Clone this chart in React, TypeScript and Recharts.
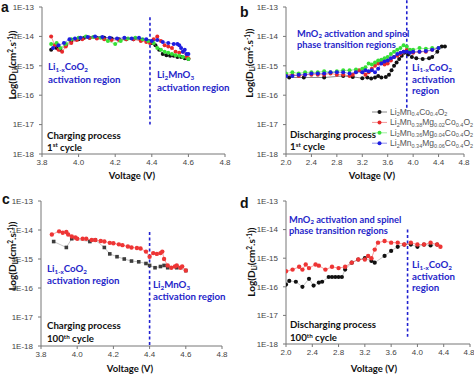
import { ScatterChart, Scatter, XAxis, YAxis, ReferenceLine } from "recharts"

const W = 237
const H = 187
const FONT = "Lato, 'Open Sans', sans-serif"
const TICK_FONT = "'Liberation Sans', Arial, sans-serif"
const BLUE_TEXT = "#2626c9"

// (a) charging, 1st cycle  [voltage, D_Li]
const aBlack = [
  [3.85, 3.5e-15], [3.88, 4e-15], [3.9, 3.5e-15], [3.93, 5e-15], [3.96, 7e-15], [4.0, 8e-15],
  [4.03, 9e-15], [4.06, 9e-15], [4.1, 9e-15], [4.14, 9e-15], [4.18, 8.5e-15], [4.22, 8e-15],
  [4.26, 8e-15], [4.3, 8e-15], [4.34, 7.5e-15], [4.38, 7e-15], [4.4, 6e-15], [4.42, 5e-15],
  [4.44, 3.5e-15], [4.46, 2.5e-15], [4.48, 2.3e-15], [4.5, 2.2e-15], [4.52, 2.2e-15],
  [4.54, 2e-15], [4.56, 2e-15], [4.58, 1.8e-15], [4.6, 1.7e-15],
]
const aRed = [
  [3.85, 1e-14], [3.87, 5e-15], [3.89, 3.5e-15], [3.91, 3e-15], [3.93, 4.5e-15], [3.96, 6e-15],
  [3.99, 7.5e-15], [4.02, 8e-15], [4.06, 9e-15], [4.1, 8.5e-15], [4.14, 8e-15], [4.18, 7.5e-15],
  [4.22, 7.5e-15], [4.26, 8e-15], [4.3, 8e-15], [4.34, 7e-15], [4.37, 6.5e-15], [4.39, 6e-15],
  [4.41, 8e-15], [4.43, 1e-14], [4.45, 7e-15], [4.47, 5e-15], [4.49, 4.5e-15], [4.51, 4e-15],
  [4.53, 3e-15], [4.55, 2.8e-15], [4.57, 3e-15], [4.59, 2e-15], [4.6, 1.8e-15],
]
const aGreen = [
  [3.85, 5.5e-15], [3.88, 6e-15], [3.9, 4e-15], [3.93, 5.5e-15], [3.96, 8e-15], [4.0, 9e-15],
  [4.04, 1e-14], [4.08, 9.5e-15], [4.12, 9e-15], [4.16, 7e-15], [4.2, 5.5e-15], [4.23, 7e-15],
  [4.27, 8.5e-15], [4.31, 9e-15], [4.35, 8e-15], [4.38, 7e-15], [4.41, 6e-15], [4.43, 4e-15],
  [4.45, 3.5e-15], [4.47, 3e-15], [4.49, 2.8e-15], [4.51, 2.5e-15], [4.53, 2.3e-15],
  [4.55, 2.2e-15], [4.57, 2e-15], [4.6, 1.7e-15],
]
const aBlue = [
  [3.86, 4e-15], [3.89, 5e-15], [3.92, 6e-15], [3.95, 8e-15], [3.98, 8.5e-15], [4.01, 9e-15],
  [4.05, 9.5e-15], [4.09, 1e-14], [4.13, 9.5e-15], [4.17, 9e-15], [4.21, 8.5e-15], [4.25, 9e-15],
  [4.29, 8.5e-15], [4.33, 9e-15], [4.37, 8e-15], [4.4, 7e-15], [4.43, 7.5e-15], [4.46, 6.5e-15],
  [4.49, 6e-15], [4.52, 5.5e-15], [4.54, 5.5e-15], [4.55, 5e-15], [4.56, 4e-15], [4.57, 3e-15],
  [4.58, 3.5e-15], [4.59, 2.5e-15], [4.6, 2.5e-15],
]

// (b) discharging, 1st cycle
const bBlack = [
  [2.0, 5e-16], [2.05, 4e-16], [2.28, 4e-16], [2.6, 4e-16], [2.9, 4.5e-16], [3.05, 4.2e-16],
  [3.2, 3.8e-16], [3.28, 4e-16], [3.34, 3.7e-16], [3.4, 4e-16], [3.45, 4.5e-16], [3.5, 4e-16],
  [3.57, 4.2e-16], [3.62, 5e-16], [3.66, 7e-16], [3.7, 1e-15], [3.74, 1.3e-15], [3.78, 1.7e-15],
  [3.82, 2.2e-15], [3.86, 2.8e-15], [3.92, 2.4e-15], [3.98, 2e-15], [4.05, 1.8e-15],
  [4.15, 1.7e-15], [4.25, 1.8e-15], [4.3, 2e-15], [4.38, 3e-15], [4.45, 4.5e-15], [4.5, 4.5e-15],
]
const bRed = [
  [2.0, 5e-16], [2.1, 5e-16], [2.2, 4.5e-16], [2.3, 5e-16], [2.4, 5e-16], [2.5, 5e-16],
  [2.6, 5e-16], [2.7, 5.5e-16], [2.8, 5e-16], [2.9, 5e-16], [3.0, 4.5e-16], [3.05, 5e-16],
  [3.1, 6e-16], [3.15, 7e-16], [3.2, 6e-16], [3.25, 5e-16], [3.3, 6e-16], [3.35, 8e-16],
  [3.4, 1e-15], [3.45, 1.2e-15], [3.5, 1.3e-15], [3.55, 1.1e-15], [3.6, 1.2e-15], [3.65, 1.5e-15],
  [3.7, 2e-15], [3.75, 2.2e-15], [3.8, 2.5e-15], [3.85, 3e-15], [3.9, 3.5e-15], [3.95, 3e-15],
  [4.0, 2.8e-15], [4.1, 3e-15], [4.2, 3e-15], [4.3, 3.5e-15], [4.4, 4e-15],
]
const bGreen = [
  [2.0, 5.5e-16], [2.1, 6e-16], [2.2, 5.5e-16], [2.3, 6e-16], [2.4, 6e-16], [2.5, 6e-16],
  [2.6, 6.5e-16], [2.7, 6e-16], [2.8, 6.5e-16], [2.9, 7e-16], [3.0, 7e-16], [3.1, 7.5e-16],
  [3.2, 8e-16], [3.25, 9e-16], [3.3, 1.2e-15], [3.35, 1.1e-15], [3.4, 1.3e-15], [3.45, 1.5e-15],
  [3.5, 1.6e-15], [3.55, 1.8e-15], [3.6, 2e-15], [3.65, 2.5e-15], [3.7, 3e-15], [3.75, 3.5e-15],
  [3.8, 4e-15], [3.85, 5e-15], [3.9, 4.5e-15], [3.95, 3.5e-15], [4.0, 3.5e-15], [4.1, 4e-15],
  [4.2, 3.8e-15], [4.3, 4e-15], [4.4, 4e-15],
]
const bBlue = [
  [2.0, 4.5e-16], [2.1, 4.5e-16], [2.2, 5e-16], [2.3, 5e-16], [2.4, 5.5e-16], [2.5, 5.5e-16],
  [2.6, 5.5e-16], [2.7, 6e-16], [2.8, 6e-16], [2.9, 6e-16], [3.0, 5.5e-16], [3.1, 6e-16],
  [3.2, 6e-16], [3.25, 7e-16], [3.3, 6.5e-16], [3.35, 7e-16], [3.4, 6e-16], [3.45, 8e-16],
  [3.5, 1.2e-15], [3.55, 1.4e-15], [3.6, 1.5e-15], [3.65, 1.8e-15], [3.7, 2e-15], [3.75, 2.5e-15],
  [3.8, 2.8e-15], [3.85, 3e-15], [3.9, 3e-15], [3.95, 2.8e-15], [4.0, 3e-15], [4.1, 3e-15],
  [4.2, 3.2e-15], [4.3, 3.5e-15], [4.4, 4e-15],
]

// (c) charging, 100th cycle
const cBlack = [
  [3.87, 4e-15], [3.94, 2.5e-15], [3.97, 5e-15], [4.07, 4e-15], [4.1, 4.5e-15], [4.15, 2.5e-15],
  [4.18, 1.5e-15], [4.22, 1.2e-15], [4.26, 1e-15], [4.3, 8.5e-16], [4.34, 8e-16], [4.38, 7e-16],
  [4.4, 6e-16], [4.43, 5e-16], [4.46, 5.5e-16], [4.48, 6e-16], [4.5, 5e-16], [4.55, 5e-16],
  [4.6, 4e-16],
]
const cRed = [
  [3.86, 7e-15], [3.9, 9e-15], [3.92, 8e-15], [3.94, 8.5e-15], [3.95, 7e-15], [3.97, 6e-15],
  [3.99, 5.5e-15], [4.0, 5e-15], [4.03, 5e-15], [4.05, 5e-15], [4.08, 4.5e-15], [4.1, 4.5e-15],
  [4.13, 4.2e-15], [4.15, 4e-15], [4.18, 3.6e-15], [4.2, 3.5e-15], [4.23, 3.2e-15], [4.25, 3e-15],
  [4.28, 2.7e-15], [4.3, 2.5e-15], [4.33, 2.4e-15], [4.35, 2.3e-15], [4.38, 1.8e-15], [4.4, 1.2e-15],
  [4.42, 1.6e-15], [4.44, 1.5e-15], [4.46, 1.6e-15], [4.47, 1.8e-15], [4.48, 1e-15], [4.5, 6e-16],
  [4.52, 5e-16], [4.54, 5.5e-16], [4.55, 6e-16], [4.57, 5e-16], [4.58, 5.5e-16], [4.6, 4e-16],
]

// (d) discharging, 100th cycle
const dBlack = [
  [2.0, 1.2e-16], [2.05, 1.6e-16], [2.15, 1.5e-16], [2.25, 1e-16], [2.35, 1.9e-16], [2.42, 1.1e-16],
  [2.5, 1.4e-16], [2.55, 1.5e-16], [2.65, 2.2e-16], [2.7, 2.2e-16], [2.75, 2.2e-16], [2.8, 2.2e-16],
  [2.85, 2.2e-16], [2.9, 4e-16], [3.0, 7e-16], [3.1, 9e-16], [3.2, 1e-15], [3.3, 8e-16],
  [3.35, 7e-16], [3.5, 1.2e-15], [3.6, 1.8e-15], [3.7, 2.5e-15], [3.8, 3e-15], [3.9, 3e-15],
  [4.0, 2.5e-15], [4.1, 3e-15], [4.2, 2.8e-15], [4.3, 3e-15],
]
const dRed = [
  [2.0, 3.5e-16], [2.1, 4e-16], [2.2, 5e-16], [2.25, 4e-16], [2.3, 6e-16], [2.35, 4.5e-16],
  [2.45, 6e-16], [2.5, 5.5e-16], [2.6, 4e-16], [2.7, 5e-16], [2.8, 4.5e-16], [2.9, 5e-16],
  [3.0, 7e-16], [3.1, 9e-16], [3.2, 9e-16], [3.25, 1.2e-15], [3.3, 1e-15], [3.35, 2e-15],
  [3.4, 3.5e-15], [3.5, 4e-15], [3.6, 3.5e-15], [3.7, 3.5e-15], [3.8, 3e-15], [3.9, 3.5e-15],
  [4.0, 3e-15], [4.1, 3e-15], [4.2, 3.5e-15], [4.3, 3e-15], [4.35, 2.5e-15],
]

const chargeTicks = [3.8, 4.0, 4.2, 4.4, 4.6, 4.8]
const dischargeTicks = [2.0, 2.4, 2.8, 3.2, 3.6, 4.0, 4.4, 4.8]
const dTicks = [1e-18, 1e-17, 1e-16, 1e-15, 1e-14, 1e-13]

const legendNames = [
  [["Li"], ["2", "sub"], ["Mn"], ["0.4", "sub"], ["Co"], ["0.4", "sub"], ["O"], ["2", "sub"]],
  [["Li"], ["2", "sub"], ["Mn"], ["0.38", "sub"], ["Mg"], ["0.02", "sub"], ["Co"], ["0.4", "sub"], ["O"], ["2", "sub"]],
  [["Li"], ["2", "sub"], ["Mn"], ["0.36", "sub"], ["Mg"], ["0.04", "sub"], ["Co"], ["0.4", "sub"], ["O"], ["2", "sub"]],
  [["Li"], ["2", "sub"], ["Mn"], ["0.34", "sub"], ["Mg"], ["0.06", "sub"], ["Co"], ["0.4", "sub"], ["O"], ["2", "sub"]],
]
const colors = ["#111111", "#e8282b", "#37e037", "#1d1de0"]

const toPts = (arr: number[][]) => arr.map(([x, y]) => ({ x, y }))

function Rich({ x, y, parts, size = 9.7, fill = "#111", weight = 700, anchor = "start", rotate = false, family = FONT }: any) {
  let shift = 0
  const spans = parts.map(([t, k]: any, i: number) => {
    const target = k === "sub" ? size * 0.16 : k === "sup" ? -size * 0.33 : 0
    const dy = target - shift
    shift = target
    return (
      <tspan key={i} dy={dy} fontSize={k ? size * 0.65 : size}>
        {t}
      </tspan>
    )
  })
  return (
    <text
      x={x}
      y={y}
      fill={fill}
      fontWeight={weight}
      fontFamily={family}
      fontSize={size}
      textAnchor={anchor}
      transform={rotate ? `rotate(-90 ${x} ${y})` : undefined}
    >
      {spans}
    </text>
  )
}

function Panel({ left, top, plot, xDomain, xTicks, series, vline }: any) {
  return (
    <div style={{ position: "absolute", left, top }}>
      <ScatterChart
        width={W}
        height={H}
        margin={{ top: plot.top, right: W - plot.right, left: 0, bottom: H - plot.bottom - 20 }}
      >
        <XAxis
          type="number"
          dataKey="x"
          domain={xDomain}
          ticks={xTicks}
          height={20}
          allowDataOverflow
          tickFormatter={(v: number) => v.toFixed(1)}
          stroke="#777"
          tickSize={3}
          tick={{ fontSize: 8, fill: "#444", fontFamily: TICK_FONT }}
        />
        <YAxis
          type="number"
          dataKey="y"
          scale="log"
          domain={[1e-18, 1e-13]}
          ticks={dTicks}
          width={plot.left}
          allowDataOverflow
          tickFormatter={(v: number) => `1E${Math.round(Math.log10(v))}`}
          stroke="#777"
          tickSize={3}
          tickMargin={5}
          tick={{ fontSize: 8, fill: "#444", fontFamily: TICK_FONT }}
        />
        <ReferenceLine
          segment={[{ x: vline.x, y: vline.from }, { x: vline.x, y: vline.to }]}
          stroke="#2020d0"
          strokeWidth={1.6}
          strokeDasharray="3 2.5"
          ifOverflow="visible"
        />
        {series.map((s: any, i: number) => (
          <Scatter
            key={i}
            data={toPts(s.data)}
            fill={s.color}
            isAnimationActive={false}
            line={{ stroke: s.line || s.color, strokeWidth: 0.7, strokeOpacity: 0.7 }}
            shape={(p: any) =>
              s.square ? (
                <rect x={p.cx - 1.8} y={p.cy - 1.8} width={3.6} height={3.6} fill={s.color} />
              ) : (
                <circle cx={p.cx} cy={p.cy} r={s.r || 2} fill={s.color} />
              )
            }
          />
        ))}
      </ScatterChart>
    </div>
  )
}

const yLabel = [["Log(D"], ["Li", "sub"], ["(cm"], ["2", "sup"], [".s"], ["-1", "sup"], ["))"]]
const liCo = [["Li"], ["1-x", "sub"], ["CoO"], ["2", "sub"]]
const liMn = [["Li"], ["2", "sub"], ["MnO"], ["3", "sub"]]
const mnO2 = [["MnO"], ["2", "sub"], [" activation and spinel"]]

export default function App() {
  return (
    <div style={{ position: "absolute", left: 0, top: 0, width: 474, height: 374, background: "#fff" }}>
      <Panel
        left={0}
        top={0}
        plot={{ left: 42, right: 225, top: 7, bottom: 154 }}
        xDomain={[3.8, 4.8]}
        xTicks={chargeTicks}
        vline={{ x: 4.39, from: 4.5e-14, to: 1e-17 }}
        series={[
          { data: aBlack, color: colors[0] },
          { data: aRed, color: colors[1] },
          { data: aGreen, color: colors[2] },
          { data: aBlue, color: colors[3] },
        ]}
      />
      <Panel
        left={237}
        top={0}
        plot={{ left: 49, right: 227, top: 7, bottom: 154 }}
        xDomain={[2.0, 4.8]}
        xTicks={dischargeTicks}
        vline={{ x: 3.9, from: 1.7e-13, to: 3e-17 }}
        series={[
          { data: bBlack, color: colors[0] },
          { data: bRed, color: colors[1] },
          { data: bGreen, color: colors[2] },
          { data: bBlue, color: colors[3] },
        ]}
      />
      <Panel
        left={0}
        top={187}
        plot={{ left: 41, right: 222, top: 14, bottom: 159 }}
        xDomain={[3.8, 4.8]}
        xTicks={chargeTicks}
        vline={{ x: 4.4, from: 8.5e-15, to: 1e-18 }}
        series={[
          { data: cBlack, color: "#3c3c3c", line: "#888", square: true },
          { data: cRed, color: "#ee3535", r: 2.2 },
        ]}
      />
      <Panel
        left={237}
        top={187}
        plot={{ left: 49, right: 233, top: 14, bottom: 157 }}
        xDomain={[2.0, 4.8]}
        xTicks={dischargeTicks}
        vline={{ x: 3.85, from: 1e-14, to: 1.8e-18 }}
        series={[
          { data: dBlack, color: "#111", line: "#888", r: 2.1 },
          { data: dRed, color: "#ee3535", r: 2.2 },
        ]}
      />
      <svg
        width={474}
        height={374}
        style={{ position: "absolute", left: 0, top: 0, pointerEvents: "none" }}
      >
        {/* panel letters */}
        <Rich x={1} y={12} parts={[["a"]]} size={14} family={TICK_FONT} />
        <Rich x={240} y={17} parts={[["b"]]} size={14} family={TICK_FONT} />
        <Rich x={2} y={204} parts={[["c"]]} size={14} family={TICK_FONT} />
        <Rich x={240} y={208} parts={[["d"]]} size={14} family={TICK_FONT} />

        {/* axis titles */}
        <Rich x={16} y={65} parts={yLabel} size={10} anchor="middle" rotate />
        <Rich x={253} y={63} parts={yLabel} size={10} anchor="middle" rotate />
        <Rich x={16} y={256} parts={yLabel} size={10} anchor="middle" rotate />
        <Rich x={255} y={262} parts={yLabel} size={10} anchor="middle" rotate />
        <Rich x={132} y={179} parts={[["Voltage (V)"]]} size={9.5} anchor="middle" />
        <Rich x={372} y={179} parts={[["Voltage (V)"]]} size={9.5} anchor="middle" />
        <Rich x={130} y={372} parts={[["Voltage (V)"]]} size={9.5} anchor="middle" />
        <Rich x={374} y={372} parts={[["Voltage (V)"]]} size={9.5} anchor="middle" />

        {/* panel a */}
        <Rich x={48} y={70} parts={liCo} fill={BLUE_TEXT} />
        <Rich x={48} y={82.8} parts={[["activation  region"]]} fill={BLUE_TEXT} />
        <Rich x={157} y={78} parts={liMn} fill={BLUE_TEXT} />
        <Rich x={157} y={90.8} parts={[["activation  region"]]} fill={BLUE_TEXT} />
        <Rich x={47} y={139} parts={[["Charging process"]]} />
        <Rich x={47} y={150.5} parts={[["1"], ["st", "sup"], [" cycle"]]} />

        {/* panel b */}
        <Rich x={297} y={36.5} parts={mnO2} fill={BLUE_TEXT} size={9.3} />
        <Rich x={297} y={48} parts={[["phase transition regions"]]} fill={BLUE_TEXT} size={9.3} />
        <Rich x={412} y={70.5} parts={liCo} fill={BLUE_TEXT} />
        <Rich x={412} y={82.5} parts={[["activation"]]} fill={BLUE_TEXT} />
        <Rich x={412} y={94} parts={[["region"]]} fill={BLUE_TEXT} />
        <Rich x={290} y={138} parts={[["Discharging process"]]} />
        <Rich x={290} y={150} parts={[["1"], ["st", "sup"], [" cycle"]]} />
        {legendNames.map((name, i) => (
          <g key={i}>
            <line x1={372} x2={387} y1={112 + i * 10.4} y2={112 + i * 10.4} stroke={colors[i]} strokeWidth={0.7} strokeOpacity={0.7} />
            <circle cx={379.5} cy={112 + i * 10.4} r={2} fill={colors[i]} />
            <Rich x={390} y={115 + i * 10.4} parts={name} size={8.5} fill="#555" weight={400} family={TICK_FONT} />
          </g>
        ))}

        {/* panel c */}
        <Rich x={47} y={272} parts={liCo} fill={BLUE_TEXT} />
        <Rich x={47} y={284} parts={[["activation  region"]]} fill={BLUE_TEXT} />
        <Rich x={153} y={288} parts={liMn} fill={BLUE_TEXT} />
        <Rich x={153} y={300} parts={[["activation  region"]]} fill={BLUE_TEXT} />
        <Rich x={47} y={329} parts={[["Charging process"]]} />
        <Rich x={47} y={342} parts={[["100"], ["th", "sup"], [" cycle"]]} />

        {/* panel d */}
        <Rich x={289} y={222.5} parts={mnO2} fill={BLUE_TEXT} size={9.3} />
        <Rich x={289} y={233.5} parts={[["phase transition regions"]]} fill={BLUE_TEXT} size={9.3} />
        <Rich x={412} y={268} parts={liCo} fill={BLUE_TEXT} />
        <Rich x={412} y={279.8} parts={[["activation"]]} fill={BLUE_TEXT} />
        <Rich x={412} y={290.6} parts={[["region"]]} fill={BLUE_TEXT} />
        <Rich x={290} y={328} parts={[["Discharging process"]]} />
        <Rich x={290} y={341} parts={[["100"], ["th", "sup"], [" cycle"]]} />
      </svg>
    </div>
  )
}
